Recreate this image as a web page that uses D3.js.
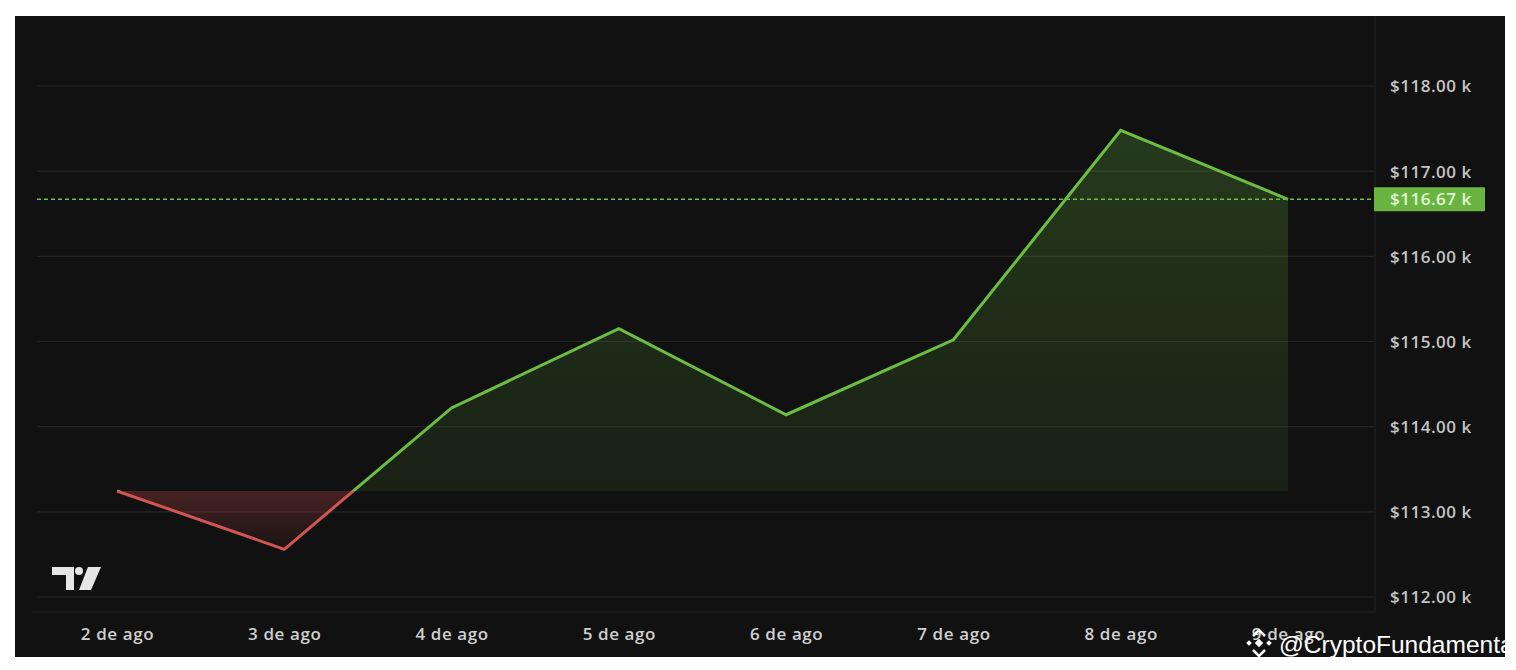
<!DOCTYPE html>
<html><head><meta charset="utf-8">
<script src="https://cdn.jsdelivr.net/npm/d3@7"></script>
<style>body{margin:0;background:#fff;}svg{display:block;}</style>
</head><body>
<svg id="c" width="1516" height="670"></svg>
<script>
const categories = ["2 de ago","3 de ago","4 de ago","5 de ago","6 de ago","7 de ago","8 de ago","9 de ago"];
const prices = [113.245, 112.56, 114.22, 115.15, 114.14, 115.02, 117.48, 116.67];
const yTicks = [112,113,114,115,116,117,118];
const yTickLabels = ["$112.00 k","$113.00 k","$114.00 k","$115.00 k","$116.00 k","$117.00 k","$118.00 k"];
const lastLabel = "$116.67 k";
const watermark = "@CryptoFundamentals";

const svg = d3.select("#c");
const W=1516,H=670;
const panel={x:15,y:16,w:1490,h:641};
const plotRight=1375, plotBottom=612;
const defs=svg.append("defs");
defs.append("clipPath").attr("id","panelClip").append("rect").attr("x",panel.x).attr("y",panel.y).attr("width",panel.w).attr("height",panel.h);

svg.append("rect").attr("x",panel.x).attr("y",panel.y).attr("width",panel.w).attr("height",panel.h).attr("fill","#111111");

const x=d3.scalePoint().domain(categories).range([117,1288]);
const y=d3.scaleLinear().domain([112,118]).range([597,86]);
const base=prices[0];
const yb=y(base);

// grid
svg.append("g").selectAll("line").data(yTicks).join("line")
  .attr("x1",37).attr("x2",plotRight).attr("y1",d=>y(d)).attr("y2",d=>y(d))
  .attr("stroke","#242424").attr("stroke-width",1.2);
// plot borders
svg.append("line").attr("x1",plotRight).attr("x2",plotRight).attr("y1",panel.y).attr("y2",plotBottom).attr("stroke","#242424");
svg.append("line").attr("x1",32).attr("x2",plotRight).attr("y1",plotBottom).attr("y2",plotBottom).attr("stroke","#242424");

// gradients
const gg=defs.append("linearGradient").attr("id","gGrad").attr("gradientUnits","userSpaceOnUse").attr("x1",0).attr("x2",0).attr("y1",y(117.5)).attr("y2",yb);
gg.append("stop").attr("offset",0).attr("stop-color","#5fae3a").attr("stop-opacity",0.26);
gg.append("stop").attr("offset",1).attr("stop-color","#5fae3a").attr("stop-opacity",0.1);
const rg=defs.append("linearGradient").attr("id","rGrad").attr("gradientUnits","userSpaceOnUse").attr("x1",0).attr("x2",0).attr("y1",yb).attr("y2",y(112.56));
rg.append("stop").attr("offset",0).attr("stop-color","#c84a4a").attr("stop-opacity",0.3);
rg.append("stop").attr("offset",1).attr("stop-color","#c84a4a").attr("stop-opacity",0.05);

defs.append("clipPath").attr("id","above").append("rect").attr("x",0).attr("y",0).attr("width",W).attr("height",yb);
defs.append("clipPath").attr("id","below").append("rect").attr("x",0).attr("y",yb).attr("width",W).attr("height",H-yb);

const data=categories.map((c,i)=>({c,v:prices[i]}));
const area=d3.area().x(d=>x(d.c)).y0(yb).y1(d=>y(d.v));
const line=d3.line().x(d=>x(d.c)).y(d=>y(d.v));

svg.append("path").datum(data).attr("d",area).attr("fill","url(#gGrad)").attr("clip-path","url(#above)");
svg.append("path").datum(data).attr("d",area).attr("fill","url(#rGrad)").attr("clip-path","url(#below)");

// last price dashed line
svg.append("line").attr("x1",37).attr("x2",plotRight).attr("y1",y(prices[prices.length-1])).attr("y2",y(prices[prices.length-1]))
  .attr("stroke","#72c04a").attr("stroke-width",1.3).attr("stroke-dasharray","4,3");

svg.append("path").datum(data).attr("d",line).attr("fill","none").attr("stroke","#6cbd42").attr("stroke-width",3).attr("stroke-linejoin","miter").attr("clip-path","url(#above)");
svg.append("path").datum(data).attr("d",line).attr("fill","none").attr("stroke","#d05553").attr("stroke-width",3).attr("stroke-linejoin","miter").attr("clip-path","url(#below)");

const fontF="Open Sans, sans-serif";
// y axis
const yAxis=d3.axisRight(y).tickValues(yTicks).tickFormat((d,i)=>yTickLabels[i]).tickSize(0).tickPadding(0);
const ya=svg.append("g").attr("transform",`translate(1390,0)`).call(yAxis);
ya.select(".domain").remove();
ya.selectAll("text").attr("fill","#c4c4c4").attr("font-family",fontF).attr("font-weight",600).attr("font-size",17).attr("letter-spacing",0.5).attr("dy","0.35em");

// last price label
const ly=y(prices[prices.length-1]);
svg.append("rect").attr("x",1374).attr("y",ly-12).attr("width",111).attr("height",24).attr("fill","#6ab541").attr("rx",1);
svg.append("text").attr("x",1390).attr("y",ly).attr("dy","0.35em").text(lastLabel)
  .attr("fill","#e4f5d8").attr("font-family",fontF).attr("font-weight",600).attr("font-size",17).attr("letter-spacing",0.5);

// x axis
const xAxis=d3.axisBottom(x).tickSize(0).tickPadding(0);
const xa=svg.append("g").attr("transform",`translate(0,628)`).call(xAxis);
xa.select(".domain").remove();
xa.selectAll("text").attr("fill","#cfcfcf").attr("font-family",fontF).attr("font-weight",600).attr("font-size",17).attr("letter-spacing",0.6).attr("dy","0.71em");

// TradingView logo
const logo=svg.append("g").attr("fill","#e6e6e6");
logo.append("path").attr("d","M52 567 H74 V590 H66 V575 H52 Z");
logo.append("circle").attr("cx",79).attr("cy",571).attr("r",4);
logo.append("path").attr("d","M88 567 H101 L91 590 H79 Z");

// watermark
const wm=svg.append("g").attr("clip-path","url(#panelClip)");
const bl=wm.append("g").attr("transform","translate(1259,643)").attr("fill","#ffffff");
bl.append("rect").attr("x",-3).attr("y",-3).attr("width",6).attr("height",6).attr("transform","rotate(45)");
bl.append("rect").attr("x",-2).attr("y",-2).attr("width",4).attr("height",4).attr("transform","translate(-10,0) rotate(45)");
bl.append("rect").attr("x",-2).attr("y",-2).attr("width",4).attr("height",4).attr("transform","translate(10,0) rotate(45)");
bl.append("path").attr("d","M-6 -7 L0 -13 L6 -7").attr("fill","none").attr("stroke","#fff").attr("stroke-width",2.5);
bl.append("path").attr("d","M-6 7 L0 13 L6 7").attr("fill","none").attr("stroke","#fff").attr("stroke-width",2.5);
wm.append("text").attr("x",1279).attr("y",653).text(watermark)
  .attr("fill","#ffffff").attr("font-family","Liberation Sans, Arial, sans-serif").attr("font-size",24.5);
</script>
</body></html>
